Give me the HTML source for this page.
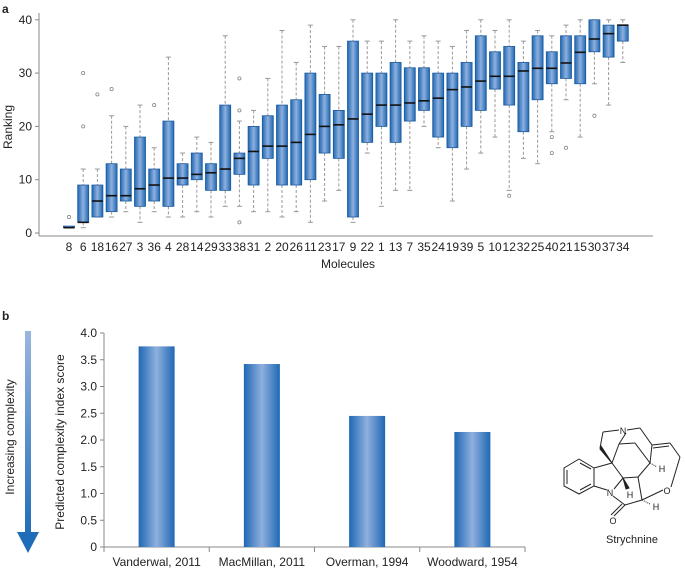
<!DOCTYPE html>
<html><head><meta charset="utf-8"><style>
body{margin:0;background:#fff;width:685px;height:572px;overflow:hidden;font-family:"Liberation Sans",sans-serif}
svg{display:block}
text{font-family:"Liberation Sans",sans-serif;fill:#222}
</style></head><body>
<svg id="fig" width="685" height="572" viewBox="0 0 685 572">
<defs>
<linearGradient id="bg" x1="0" x2="1" y1="0" y2="0">
<stop offset="0" stop-color="#1f68b3"/><stop offset="0.5" stop-color="#8fb0de"/><stop offset="1" stop-color="#1f68b3"/></linearGradient>
<linearGradient id="ag" x1="0" x2="0" y1="0" y2="1">
<stop offset="0" stop-color="#9ab6dd"/><stop offset="1" stop-color="#1f6db8"/></linearGradient>
</defs>
<text x="2" y="13" font-size="12" font-weight="bold">a</text>
<text x="2" y="320" font-size="12" font-weight="bold">b</text>
<g id="ga"></g>
<g id="gb"></g>
<g>
<rect x="25" y="331" width="6" height="205" fill="url(#ag)"/>
<polygon points="17,532 39,532 28,553" fill="#1f6db8"/>
<text transform="translate(14,437) rotate(-90)" font-size="12" text-anchor="middle" fill="#333">Increasing complexity</text>
</g>
<g stroke="#222" stroke-width="1" fill="none">
<polyline points="579,459 564,468 564,486 579,494 594,486 594,468 579,459"/>
<line x1="567" y1="470" x2="567" y2="484"/><line x1="580" y1="463" x2="591" y2="469"/><line x1="580" y1="490" x2="591" y2="484"/>
<line x1="594" y1="468" x2="612" y2="463"/><line x1="594" y1="486" x2="607" y2="490"/>
<polygon points="612,463 600,449 601,446" fill="#222"/>
<line x1="600" y1="448" x2="603" y2="432"/><line x1="603" y1="432" x2="619" y2="430"/>
<line x1="626" y1="433" x2="619" y2="444"/><line x1="619" y1="444" x2="612" y2="463"/>
<line x1="627" y1="430" x2="640" y2="428"/><line x1="640" y1="428" x2="652" y2="445"/>
<line x1="652" y1="445" x2="670" y2="443"/><line x1="653" y1="448" x2="669" y2="446"/>
<line x1="670" y1="443" x2="680" y2="457"/><line x1="680" y1="457" x2="671" y2="487"/>
<line x1="619" y1="444" x2="635" y2="443"/><line x1="635" y1="443" x2="650" y2="463"/><line x1="652" y1="445" x2="650" y2="463"/>
<line x1="650" y1="463" x2="638" y2="477"/><line x1="638" y1="477" x2="623" y2="478"/>
<line x1="623" y1="478" x2="612" y2="463"/><line x1="623" y1="478" x2="614" y2="489"/>
<polygon points="623,478 629,488 626,489" fill="#222"/>
<line x1="638" y1="477" x2="642" y2="500"/><line x1="642" y1="500" x2="663" y2="490"/>
<line x1="642" y1="500" x2="625" y2="505"/><line x1="625" y1="505" x2="613" y2="496"/>
<line x1="625" y1="505" x2="614" y2="516"/><line x1="622" y1="504" x2="611" y2="515"/>
<line x1="650" y1="463" x2="657" y2="467" stroke-dasharray="1,1"/><line x1="642" y1="500" x2="650" y2="504" stroke-dasharray="1,1"/>
</g>
<g font-size="9">
<text x="623" y="434" text-anchor="middle">N</text><text x="610" y="496" text-anchor="middle">N</text>
<text x="667" y="494" text-anchor="middle">O</text><text x="613" y="524" text-anchor="middle">O</text>
<text x="662" y="472" text-anchor="middle">H</text><text x="630" y="498" text-anchor="middle">H</text><text x="656" y="510" text-anchor="middle">H</text>
</g>
<text x="632" y="543" font-size="11" text-anchor="middle">Strychnine</text>
</svg>
<script>
const NS="http://www.w3.org/2000/svg";
// Panel a data
const molecules=["8","6","18","16","27","3","36","4","28","14","29","33","38","31","2","20","26","11","23","17","9","22","1","13","7","35","24","19","39","5","10","12","32","25","40","21","15","30","37","34"];
const whiskerLow=[1,1,3,3,4,2,4,3,3,4,3,5,5,4,4,3,4,2,6,8,2,15,5,8,8,20,16,6,12,15,18,8,14,13,19,25,18,28,24,32];
const q1=[1,2,3,4,6,5,6,5,9,10,8,8,11,9,14,9,9,10,15,14,3,17,20,17,21,23,18,16,20,23,27,24,19,25,28,29,28,34,33,36];
const medians=[1,2,6,7,7,8.3,9,10.3,10.3,11,11.3,12,14,15.3,16.3,16.3,17,18.5,20,20.3,21.4,22.3,24,24,24.4,24.8,25.3,26.9,27.4,28.5,29.4,29.4,30.4,30.9,30.9,31.9,33.9,36.4,37.4,39];
const q3=[1.3,9,9,13,12,18,12,21,13,15,13,24,15,20,22,24,25,30,26,23,36,30,30,32,31,31,30,30,32,37,34,35,32,37,34,37,37,40,39,39];
const whiskerHigh=[1,12,12,22,20,24,16,33,15,18,17,37,21,23,29,38,32,39,35,35,40,36,36,40,36,37,36,35,38,40,38,40,36,38,37,39,40,40,40,40];
const outliers=[[3],[20,30],[26],[27],[],[],[24],[],[],[],[],[],[2,23,29],[],[],[],[],[],[],[],[],[],[],[],[],[],[],[],[],[],[],[7],[],[],[18,15],[16],[],[22],[],[]];
const yTicksA=[0,10,20,30,40];
// Panel b data
const authors=["Vanderwal, 2011","MacMillan, 2011","Overman, 1994","Woodward, 1954"];
const scores=[3.75,3.42,2.45,2.15];
const yTicksB=[0,0.5,1.0,1.5,2.0,2.5,3.0,3.5,4.0];

function mk(tag,attrs,parent){const e=document.createElementNS(NS,tag);for(const k in attrs)e.setAttribute(k,attrs[k]);parent.appendChild(e);return e;}
const ga=document.getElementById('ga'), gb=document.getElementById('gb');
const yA=v=>233-v*5.33;
const xA=i=>69+i*14.2;
// axes a
let ax=mk('g',{},ga);


mk('line',{x1:39,y1:13,x2:39,y2:236,stroke:'#888'},ax);
mk('line',{x1:39,y1:236,x2:653,y2:236,stroke:'#888'},ga);
yTicksA.forEach(t=>{mk('line',{x1:35,x2:39,y1:yA(t),y2:yA(t),stroke:'#888'},ax);
 const tx=mk('text',{x:32,y:yA(t)+4,'font-size':12,'text-anchor':'end'},ax);tx.textContent=t;
 
 });
let yl=mk('text',{transform:'translate(12,127) rotate(-90)','font-size':12,'text-anchor':'middle'},ga);yl.textContent='Ranking';


let xl=mk('text',{x:348,y:268,'font-size':12,'text-anchor':'middle'},ga);xl.textContent='Molecules';


molecules.forEach((m,i)=>{
 const g=mk('g',{},ga);
 
 
 const x=xA(i),w=5.5;
 mk('line',{x1:x,x2:x,y1:yA(whiskerHigh[i]),y2:yA(q3[i]),stroke:'#999','stroke-dasharray':'3,2'},g);
 mk('line',{x1:x,x2:x,y1:yA(q1[i]),y2:yA(whiskerLow[i]),stroke:'#999','stroke-dasharray':'3,2'},g);
 mk('line',{x1:x-2.5,x2:x+2.5,y1:yA(whiskerHigh[i]),y2:yA(whiskerHigh[i]),stroke:'#999'},g);
 mk('line',{x1:x-2.5,x2:x+2.5,y1:yA(whiskerLow[i]),y2:yA(whiskerLow[i]),stroke:'#999'},g);
 mk('rect',{x:x-w,y:yA(q3[i]),width:2*w,height:Math.max(1,yA(q1[i])-yA(q3[i])),fill:'url(#bg)',stroke:'#1a5a9e','stroke-width':0.8},g);
 mk('line',{x1:x-w,x2:x+w,y1:yA(medians[i]),y2:yA(medians[i]),stroke:'#111','stroke-width':1.6},g);
 outliers[i].forEach(o=>mk('circle',{cx:x,cy:yA(o),r:1.6,fill:'none',stroke:'#777','stroke-width':0.7},g));
 const t=mk('text',{x:x,y:251,'font-size':12,'text-anchor':'middle'},g);t.textContent=m;
});
// panel b
const yB=v=>547-v*53.5;
const x0=104,bw=105.25;
mk('line',{x1:x0,y1:333,x2:x0,y2:547,stroke:'#888'},gb);
mk('line',{x1:x0,y1:547,x2:x0+4*bw,y2:547,stroke:'#888'},gb);
yTicksB.forEach(t=>{mk('line',{x1:100,x2:104,y1:yB(t),y2:yB(t),stroke:'#888'},gb);
 const tx=mk('text',{x:97,y:yB(t)+4,'font-size':12,'text-anchor':'end'},gb);tx.textContent=(t===0?'0':t.toFixed(1));
 
 });
let yl2=mk('text',{transform:'translate(64,442) rotate(-90)','font-size':12,'text-anchor':'middle'},gb);yl2.textContent='Predicted complexity index score';


for(let k=0;k<=4;k++)mk('line',{x1:x0+k*bw,x2:x0+k*bw,y1:547,y2:552,stroke:'#888'},gb);
authors.forEach((a,i)=>{
 const c=x0+(i+0.5)*bw;
 const r=mk('rect',{x:c-18,y:yB(scores[i]),width:36,height:yB(0)-yB(scores[i]),fill:'url(#bg)'},gb);
 
 
 const t=mk('text',{x:c,y:566,'font-size':12,'text-anchor':'middle'},gb);t.textContent=a;
 
 
});
</script>
</body></html>
